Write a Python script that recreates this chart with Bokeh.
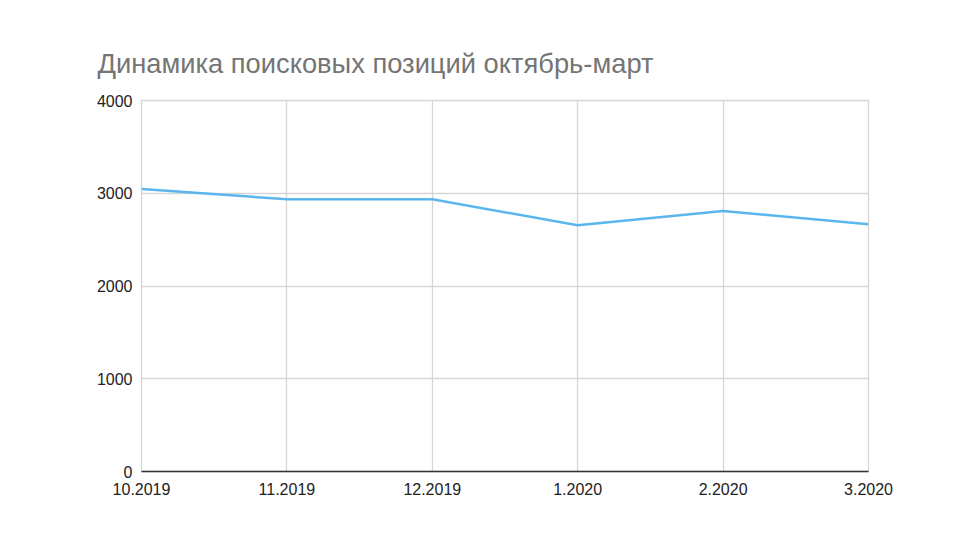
from bokeh.plotting import figure
from bokeh.models import Range1d, FixedTicker, Title
from bokeh.embed import file_html
from bokeh.resources import INLINE

categories = ["10.2019", "11.2019", "12.2019", "1.2020", "2.2020", "3.2020"]
positions = [3046, 2935, 2935, 2655, 2809, 2665]
y_ticks = [0, 1000, 2000, 3000, 4000]
title_text = "Динамика поисковых позиций октябрь-март"

xs = list(range(len(categories)))

p = figure(width=944, height=524, output_backend="svg", toolbar_location=None,
           x_range=Range1d(0, len(categories) - 1), y_range=Range1d(0, 4000),
           min_border_left=141, min_border_right=76, min_border_top=100, min_border_bottom=53)
p.title = None
p.add_layout(Title(text=title_text, text_font="Liberation Sans", text_font_size="27.3px",
                   text_font_style="normal", text_color="#757575", align="left",
                   offset=-44, standoff=44), "above")

p.line(xs, positions, line_color="#5cb6ee", line_width=2.5)

p.outline_line_color = "#d6d6d6"
p.outline_line_width = 1.3
p.xaxis.ticker = FixedTicker(ticks=xs)
p.xaxis.major_label_overrides = {i: c for i, c in enumerate(categories)}
p.yaxis.ticker = FixedTicker(ticks=y_ticks)
for ax in (p.xaxis, p.yaxis):
    ax.major_tick_line_color = None
    ax.minor_tick_line_color = None
    ax.major_tick_out = 0
    ax.major_tick_in = 0
    ax.minor_tick_out = 0
    ax.minor_tick_in = 0
    ax.major_label_text_font = "Liberation Sans"
    ax.major_label_text_font_size = "16px"
    ax.major_label_text_color = "#222222"
p.yaxis.axis_line_color = None
p.yaxis.major_label_standoff = 9
p.xaxis.axis_line_color = "#333333"
p.xaxis.axis_line_width = 1.5
p.xaxis.major_label_standoff = 11
p.grid.grid_line_color = "#d6d6d6"
p.grid.grid_line_width = 1.3

open("out.html", "w").write(file_html(p, INLINE))
